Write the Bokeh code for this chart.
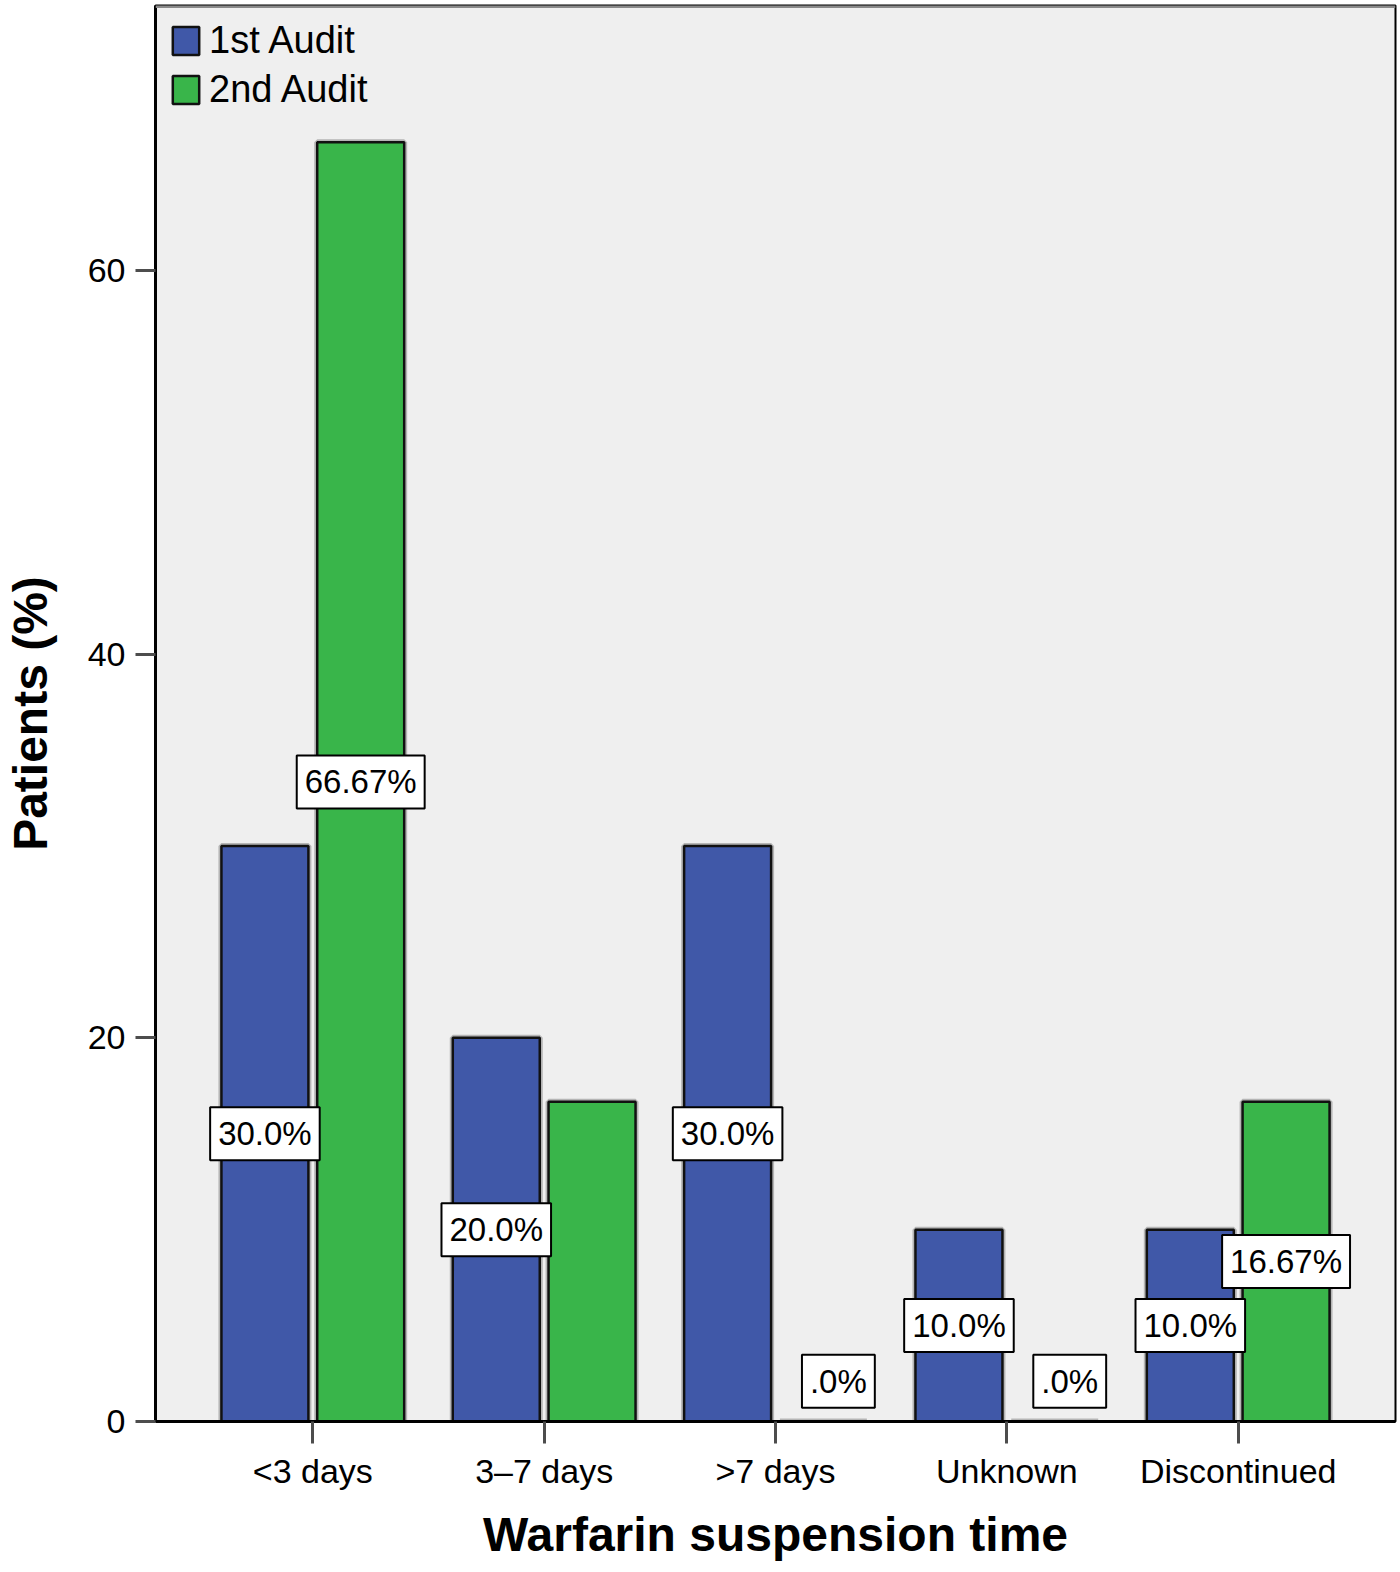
from bokeh.plotting import figure
from bokeh.models import FixedTicker, Span, Legend, LegendItem
from bokeh.core.properties import value
from bokeh.embed import file_html
from bokeh.resources import INLINE

# ---- data ----
categories = ["<3 days", "3\u20137 days", ">7 days", "Unknown", "Discontinued"]
audit1 = [30.0, 20.0, 30.0, 10.0, 10.0]
audit2 = [66.67, 16.67, 0.0, 0.0, 16.67]
labels1 = ["30.0%", "20.0%", "30.0%", "10.0%", "10.0%"]
labels2 = ["66.67%", "", ".0%", ".0%", "16.67%"]   # 16.67% of 3-7 days is hidden in the original
series_names = ["1st Audit", "2nd Audit"]
y_ticks = [0, 20, 40, 60]
x_title = "Warfarin suspension time"
y_title = "Patients (%)"

# ---- style / layout ----
BLUE = "#4058A8"
GREEN = "#39B54A"
FONT = "Liberation Sans"
BAR_W = 0.376
OFF = 0.207
Y_END = 73.8
MIN_LABEL_Y = 2.1
ZERO_LABEL_SHIFT = 15
LEFT = 153
FRAME_W = 1240
FRAME_H = 1416
RIGHT = 5

idx = list(range(len(categories)))
x1 = [i - OFF for i in idx]
x2 = [i + OFF for i in idx]

p = figure(
    frame_width=FRAME_W, frame_height=FRAME_H,
    x_range=(-0.68, len(categories) - 1 + 0.68), y_range=(0, Y_END),
    output_backend="svg", toolbar_location=None,
    min_border_left=LEFT, min_border_right=RIGHT, min_border_top=5, min_border_bottom=0,
    background_fill_color="#EFEFEF", border_fill_color="white",
)
p.xgrid.visible = False
p.ygrid.visible = False
p.outline_line_color = "black"
p.outline_line_width = 2

# halo under bars
p.vbar(x=x1, top=audit1, width=BAR_W, fill_alpha=0, line_color="#b5b5b5", line_width=6)
p.vbar(x=x2, top=audit2, width=BAR_W, fill_alpha=0, line_color="#b5b5b5", line_width=6)
bar_style = dict(width=BAR_W, line_color="#111111", line_width=2.5)
r1 = p.vbar(x=x1, top=audit1, fill_color=BLUE, **bar_style)
r2 = p.vbar(x=x2, top=audit2, fill_color=GREEN, **bar_style)

# data labels (boxed)
lx, ly, lt, lo = [], [], [], []
for xs, vals, labs in ((x1, audit1, labels1), (x2, audit2, labels2)):
    for xv, v, t in zip(xs, vals, labs):
        if not t:
            continue
        lx.append(xv)
        ly.append(max(v / 2.0, MIN_LABEL_Y))
        lt.append(t)
        lo.append(ZERO_LABEL_SHIFT if v == 0 else 0)
p.text(x=lx, y=ly, text=lt, x_offset=lo, text_align="center", text_baseline="middle",
       text_font=value(FONT), text_font_size="33px", text_color="black",
       background_fill_color="white", border_line_color="black",
       border_line_width=2, padding=8)

# top border gray
p.add_layout(Span(location=Y_END, dimension="width", line_color="#8a8a8a", line_width=5))

# axes
p.xaxis.ticker = FixedTicker(ticks=idx)
p.xaxis.major_label_overrides = {i: c for i, c in zip(idx, categories)}
p.yaxis.ticker = FixedTicker(ticks=y_ticks)
for ax in (p.xaxis[0], p.yaxis[0]):
    ax.axis_line_color = "black"
    ax.axis_line_width = 3
    ax.major_tick_line_color = "#4d4d4d"
    ax.major_tick_line_width = 3
    ax.major_tick_in = 0
    ax.minor_tick_line_color = None
    ax.major_label_text_font = FONT
    ax.major_label_text_font_size = "34px"
    ax.major_label_text_color = "black"
    ax.axis_label_text_font = FONT
    ax.axis_label_text_font_style = "bold"
    ax.axis_label_text_font_size = "48px"
    ax.axis_label_text_color = "black"

p.xaxis.axis_label = x_title
p.xaxis.major_tick_out = 22
p.xaxis.major_label_standoff = 8
p.xaxis.axis_label_standoff = 15

p.yaxis.axis_label = y_title
p.yaxis.major_tick_out = 20
p.yaxis.major_label_standoff = 10
p.yaxis.axis_label_standoff = 28

legend = Legend(
    items=[LegendItem(label=series_names[0], renderers=[r1]),
           LegendItem(label=series_names[1], renderers=[r2])],
    location="top_left", orientation="vertical",
    padding=0, margin=14, spacing=6,
    glyph_width=33, glyph_height=35, label_height=35, label_standoff=7,
    label_text_font=FONT, label_text_font_size="38px", label_text_color="black",
    border_line_color=None, background_fill_alpha=0,
)
p.add_layout(legend)

open("out.html", "w").write(file_html(p, INLINE))
